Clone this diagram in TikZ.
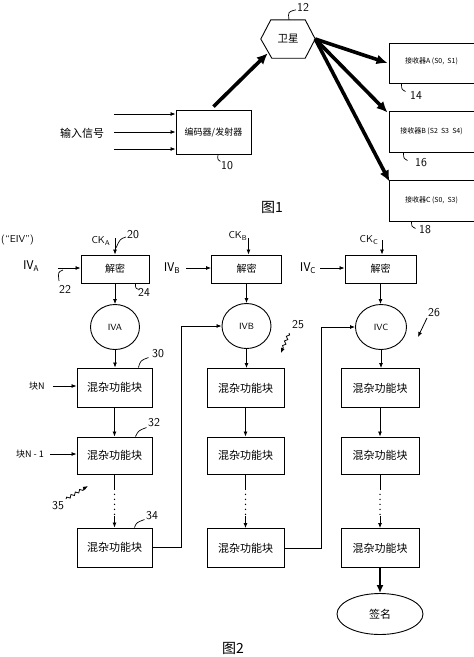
\documentclass[tikz,border=0pt]{standalone}
\usepackage{fontspec}
\setmainfont{Noto Sans CJK SC}
\usetikzlibrary{arrows.meta,shapes.geometric,calc,decorations.pathmorphing}
\begin{document}
\begin{tikzpicture}[x=1pt,y=-1pt,
  box/.style={draw,line width=0.9pt,inner sep=0pt},
  ell/.style={draw,ellipse,line width=0.9pt,inner sep=0pt},
  arr/.style={line width=0.8pt,-{Latex[length=5pt,width=4pt]}},
  thin/.style={line width=0.8pt},
  big/.style={line width=3.6pt,-{Latex[length=11pt,width=10pt]}},
  mid/.style={line width=2pt,-{Latex[length=8pt,width=7pt]}},
  lead/.style={line width=0.7pt},
  hand/.style={font=\sffamily\fontsize{12}{12}\selectfont,inner sep=0pt},
  handsm/.style={font=\sffamily\fontsize{10}{10}\selectfont,inner sep=0pt},
  mixf/.style={font=\fontsize{11}{12}\selectfont},
  recf/.style={font=\fontsize{7}{8}\selectfont},
  dots/.style={line width=1.5pt,line cap=round,dash pattern=on 0pt off 5pt},
  wavy/.style={line width=0.8pt,decorate,decoration={snake,amplitude=1.3pt,segment length=5pt,post length=4pt},-{Latex[length=5pt,width=4pt]}}
]
\useasboundingbox (0,0) rectangle (474,657);
\fill[white] (0,0) rectangle (474,657);

% ---------------- Figure 1 ----------------
\node[box,minimum width=75pt,minimum height=44pt,font=\fontsize{9}{10}\selectfont] (enc) at (213.5,132) {编码器/发射器};
\node[font=\fontsize{11}{12}\selectfont] (inlab) at (82,133) {输入信号};
\coordinate (in1) at (114,114);
\coordinate (in2) at (114,132);
\coordinate (in3) at (114,149);
\draw[arr] (in1) -- (enc.west |- in1);
\draw[arr] (in2) -- (enc.west |- in2);
\draw[arr] (in3) -- (enc.west |- in3);
\node[hand] (l10) at (227,166) {10};
\draw[lead] ($(enc.south)+(4.5,0)$) .. controls ($(enc.south)+(4,5)$) .. ($(enc.south)+(7,7)$);

\node[minimum width=54pt,minimum height=38pt,inner sep=0pt,font=\fontsize{10.5}{11}\selectfont] (sat) at (288,39) {卫星};
\draw[line width=0.9pt] (sat.west) -- ($(sat.north west)+(10,0)$) -- ($(sat.north east)+(-10,0)$) -- (sat.east) -- ($(sat.south east)+(-10,0)$) -- ($(sat.south west)+(11,0)$) -- cycle;
\node[hand] (l12) at (303,7) {12};
\draw[lead] ($(sat.north)+(1,0)$) .. controls ($(sat.north)+(0,-8)$) .. ($(sat.north)+(8,-10)$);

\coordinate (encout) at ($(enc.north)+(0,-3)$);
\coordinate (satin) at ($(sat.south west)+(7,-5)$);
\draw[big] (encout) -- (satin);

\node[box,minimum width=85pt,minimum height=40pt,recf] (ra) at (431.5,63) {\raisebox{4pt}{接收器A (S0,\ \ S1)}};
\node[box,minimum width=85pt,minimum height=41pt,recf] (rb) at (431.5,131.5) {接收器B (S2\ \ S3\ \ S4)};
\node[box,minimum width=85pt,minimum height=41pt,recf] (rc) at (431.5,200.5) {接收器C (S0,\ \ S3)};
\draw[big] (sat.east) -- ($(ra.west)+(-1,0)$);
\draw[big] (sat.east) -- ($(rb.north west)+(-1,2)$);
\draw[big] (sat.east) -- ($(rc.north west)+(1,2)$);
\node[hand] (l14) at (416,95) {14};
\node[hand] (l16) at (421,163) {16};
\node[hand] (l18) at (425,230) {18};
\draw[lead] ($(ra.south west)+(13,0)$) .. controls ($(ra.south west)+(13,6)$) .. ($(ra.south west)+(17,8)$);
\draw[lead] ($(rb.south west)+(15,0)$) .. controls ($(rb.south west)+(15,6)$) .. ($(rb.south west)+(19,8)$);
\draw[lead] ($(rc.south west)+(23,0)$) .. controls ($(rc.south west)+(23,5)$) .. ($(rc.south west)+(27,7)$);

\node[font=\fontsize{14}{14}\selectfont] (fig1) at (272,207) {图1};

% ---------------- Figure 2 ----------------
\node[hand,anchor=west,font=\sffamily\fontsize{10}{10}\selectfont] (eiv) at (1,240) {(“EIV”)};

% decrypt boxes
\node[box,minimum width=68pt,minimum height=28pt,font=\fontsize{10}{11}\selectfont] (da) at (115,269) {解密};
\node[box,minimum width=70pt,minimum height=28pt,font=\fontsize{10}{11}\selectfont] (db) at (246.5,269) {解密};
\node[box,minimum width=71pt,minimum height=28pt,font=\fontsize{10}{11}\selectfont] (dc) at (380.5,269) {解密};

% CK inputs
\node[handsm] (cka) at (101,241) {CK\textsubscript{A}};
\node[handsm] (ckb) at (238,236) {CK\textsubscript{B}};
\node[handsm] (ckc) at (369,240) {CK\textsubscript{C}};
\coordinate (cka0) at (115,238);
\coordinate (ckb0) at (248.5,238);
\coordinate (ckc0) at (382,240);
\draw[arr] (cka0) -- (cka0 |- da.north);
\draw[arr] (ckb0) -- (ckb0 |- db.north);
\draw[arr] (ckc0) -- (ckc0 |- dc.north);
\node[hand] (l20) at (133,235) {20};
\draw[lead] ($(cka0)+(11,-1)$) .. controls ($(cka0)+(5,1)$) .. ($(cka0)+(1,10)$);

% IV inputs
\node[font=\rmfamily\fontsize{12}{12}\selectfont,inner sep=0pt] (iva_l) at (31,266) {IV\textsubscript{A}};
\node[font=\rmfamily\fontsize{12}{12}\selectfont,inner sep=0pt] (ivb_l) at (172,268) {IV\textsubscript{B}};
\node[font=\rmfamily\fontsize{12}{12}\selectfont,inner sep=0pt] (ivc_l) at (308,268) {IV\textsubscript{C}};
\coordinate (iva0) at (58,268);
\coordinate (ivb0) at (186,268);
\coordinate (ivc0) at (320,268);
\draw[arr] (iva0) -- (iva0 -| da.west);
\draw[arr] (ivb0) -- (ivb0 -| db.west);
\draw[arr] (ivc0) -- (ivc0 -| dc.west);
\node[hand] (l22) at (65,289) {22};
\draw[lead] ($(iva0)+(5,2)$) .. controls ($(iva0)+(0,4)$) .. ($(iva0)+(1,13)$);
\node[hand] (l24) at (144,292) {24};
\draw[lead] ($(da.south east)+(-14,0)$) .. controls ($(da.south east)+(-14,5)$) .. ($(da.south east)+(-10,6)$);

% IV circles
\node[ell,minimum width=49pt,minimum height=45pt,font=\sffamily\fontsize{9}{9}\selectfont] (iva) at (115,327) {IVA};
\node[ell,minimum width=49pt,minimum height=45pt,font=\sffamily\fontsize{9}{9}\selectfont] (ivb) at (246.5,326) {IVB};
\node[ell,minimum width=51pt,minimum height=45pt,font=\sffamily\fontsize{9}{9}\selectfont] (ivc) at (381,327) {IVC};
\draw[arr] (da.south) -- (da.south |- iva.north);
\draw[arr] (db.south) -- (db.south |- ivb.north);
\draw[arr] (dc.south) -- (dc.south |- ivc.north);

% mixing blocks
\node[box,minimum width=75pt,minimum height=39pt,mixf] (a1) at (114.5,387.5) {混杂功能块};
\node[box,minimum width=75pt,minimum height=37pt,mixf] (a2) at (114.5,455.5) {混杂功能块};
\node[box,minimum width=75pt,minimum height=39pt,mixf] (a3) at (114.5,547.5) {混杂功能块};
\node[box,minimum width=77pt,minimum height=39pt,mixf] (b1) at (245.5,388) {混杂功能块};
\node[box,minimum width=77pt,minimum height=37pt,mixf] (b2) at (245.5,455.5) {混杂功能块};
\node[box,minimum width=77pt,minimum height=39pt,mixf] (b3) at (245.5,548) {混杂功能块};
\node[box,minimum width=78pt,minimum height=39pt,mixf] (c1) at (380,388) {混杂功能块};
\node[box,minimum width=78pt,minimum height=37pt,mixf] (c2) at (380,455.5) {混杂功能块};
\node[box,minimum width=78pt,minimum height=39pt,mixf] (c3) at (380,548) {混杂功能块};

\draw[arr] (iva.south) -- (iva.south |- a1.north);
\draw[arr] (ivb.south) -- (ivb.south |- b1.north);
\draw[arr] (ivc.south) -- (ivc.south |- c1.north);
\draw[arr] (a1.south) -- (a1.south |- a2.north);
\draw[arr] (b1.south) -- (b1.south |- b2.north);
\draw[arr] (c1.south) -- (c1.south |- c2.north);

% dotted continuations
\foreach \n in {a,b,c}{
  \draw[thin] (\n2.south) -- ++(0,16) coordinate (\n d1);
  \draw[dots] ($(\n d1)+(0,4)$) -- ++(0,20) coordinate (\n d2);
  \draw[arr] ($(\n d2)+(0,2)$) -- (\n d2 |- \n3.north);
}

% block inputs
\node[font=\fontsize{9}{9}\selectfont,inner sep=0pt] (blkn) at (37,386) {块N};
\node[font=\fontsize{9}{9}\selectfont,inner sep=0pt] (blkn1) at (30,454) {块N - 1};
\coordinate (bn0) at (53,386);
\coordinate (bn10) at (50,454);
\draw[arr] (bn0) -- (bn0 -| a1.west);
\draw[arr] (bn10) -- (bn10 -| a2.west);

% chaining connectors
\draw[arr] (a3.east) -- ++(29,0) |- (ivb.west);
\draw[arr] (b3.east) -- ++(37,0) |- (ivc.west);

% signature
\node[ell,minimum width=86pt,minimum height=41pt,font=\fontsize{11}{12}\selectfont] (sig) at (380,614) {签名};
\draw[mid] (c3.south) -- (sig.north);

% reference numerals
\node[hand] (l30) at (158,354) {30};
\draw[lead] ($(a1.north east)+(-14,0)$) .. controls ($(a1.north east)+(-12,-7)$) .. ($(a1.north east)+(-4,-10)$);
\node[hand] (l32) at (154,423) {32};
\draw[lead] ($(a2.north east)+(-17,0)$) .. controls ($(a2.north east)+(-14,-6)$) .. ($(a2.north east)+(-6,-9)$);
\node[hand] (l34) at (152,516) {34};
\draw[lead] ($(a3.north east)+(-18,0)$) .. controls ($(a3.north east)+(-16,-5)$) .. ($(a3.north east)+(-8,-8)$);
\node[hand] (l35) at (58,506) {35};
\coordinate (w35) at (66,499);
\draw[wavy] (w35) -- (88,486);
\node[hand] (l25) at (298,325) {25};
\coordinate (w25) at (289,333);
\draw[wavy] (w25) -- (281,353);
\node[hand] (l26) at (434,313) {26};
\coordinate (w26) at (427,318);
\draw[line width=0.8pt,-{Latex[length=5pt,width=4pt]}] (w26) .. controls (423,326) .. (418,337);

\node[font=\fontsize{14}{14}\selectfont] (fig2) at (233,648) {图2};
\end{tikzpicture}
\end{document}
